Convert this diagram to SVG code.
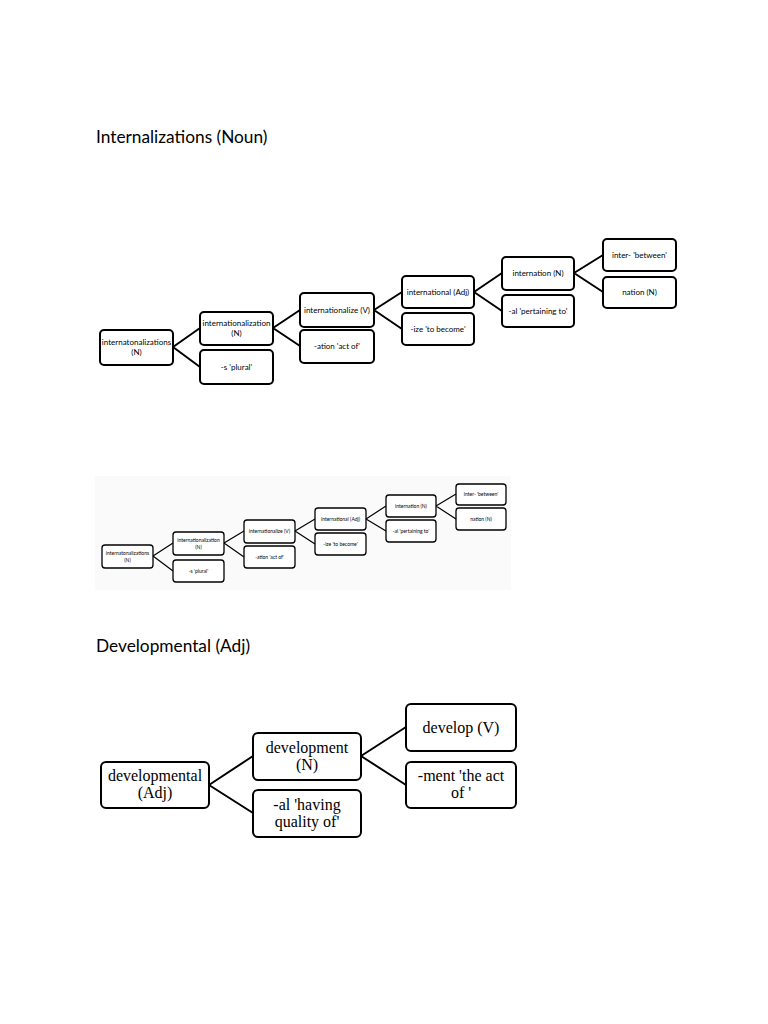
<svg xmlns="http://www.w3.org/2000/svg" width="768" height="1024" viewBox="0 0 768 1024">
<style>
.b{fill:#fff;stroke:#000;stroke-width:2}
.b2{fill:#fff;stroke:#000;stroke-width:1.3}
.t{font-family:Lato,"Liberation Sans",sans-serif;font-size:8px;text-anchor:middle;fill:#000}
.s{font-family:Lato,"Liberation Sans",sans-serif;font-size:5px;text-anchor:middle;fill:#000}
.d{font-family:"Liberation Serif",serif;font-size:16px;text-anchor:middle;fill:#000}
.h{font-family:Lato,"Open Sans",sans-serif;font-size:17.3px;fill:#000}
.c{stroke:#000;stroke-width:2;fill:none}
.c2{stroke:#000;stroke-width:1.2;fill:none}
</style>
<rect width="768" height="1024" fill="#fff"/>
<rect x="95" y="476" width="416" height="114" fill="#fafafa"/>
<text class="h" x="96" y="143">Internalizations (Noun)</text>
<text class="h" x="96" y="652">Developmental (Adj)</text>
<g id="connectors">
<path class="c" d="M173 347 L200 328 M173 347 L200 367 M273 328 L300 310 M273 328 L300 346 M374 310 L402 292 M374 310 L402 329 M474 292 L502 273 M474 292 L502 311 M574 273 L603 255 M574 273 L603 292"/>
<path class="c2" d="M153 556 L173 543 M153 556 L173 571 M224 543 L244 531 M224 543 L244 557 M295 531 L315 519 M295 531 L315 544 M366 519 L386 506 M366 519 L386 531 M436 506 L456 494 M436 506 L456 519"/>
<path class="c" d="M209 785 L253 756 M209 785 L253 813 M361 756 L406 727 M361 756 L406 785"/>
</g>
<g id="d1">
<g id="n1a"><rect class="b" x="100" y="330" width="73" height="35" rx="4"/><text class="t" x="136.5" y="345">internatonalizations</text><text class="t" x="136.5" y="355">(N)</text></g>
<g id="n1b"><rect class="b" x="200" y="312" width="73" height="33" rx="4"/><text class="t" x="236.5" y="326">internationalization</text><text class="t" x="236.5" y="336">(N)</text></g>
<g id="n1b2"><rect class="b" x="200" y="350" width="73" height="34" rx="4"/><text class="t" x="236.5" y="370">-s 'plural'</text></g>
<g id="n1c"><rect class="b" x="300" y="293" width="74" height="34" rx="4"/><text class="t" x="337" y="313">internationalize (V)</text></g>
<g id="n1c2"><rect class="b" x="300" y="330" width="74" height="33" rx="4"/><text class="t" x="337" y="349">-ation 'act of'</text></g>
<g id="n1d"><rect class="b" x="402" y="276" width="72" height="32" rx="4"/><text class="t" x="438" y="295">international (Adj)</text></g>
<g id="n1d2"><rect class="b" x="402" y="313" width="72" height="32" rx="4"/><text class="t" x="438" y="332">-ize 'to become'</text></g>
<g id="n1e"><rect class="b" x="502" y="257" width="72" height="33" rx="4"/><text class="t" x="538" y="276">internation (N)</text></g>
<g id="n1e2"><rect class="b" x="502" y="295" width="72" height="32" rx="4"/><text class="t" x="538" y="314">-al 'pertaining to'</text></g>
<g id="n1f"><rect class="b" x="603" y="239" width="73" height="32" rx="4"/><text class="t" x="639.5" y="258">inter- 'between'</text></g>
<g id="n1f2"><rect class="b" x="603" y="277" width="73" height="31" rx="4"/><text class="t" x="639.5" y="295">nation (N)</text></g>
</g>
<g id="d2">
<g id="n2a"><rect class="b2" x="102" y="545" width="51" height="23" rx="3"/><text class="s" x="127.5" y="555">internatonalizations</text><text class="s" x="127.5" y="562">(N)</text></g>
<g id="n2b"><rect class="b2" x="173" y="532" width="51" height="23" rx="3"/><text class="s" x="198.5" y="542">internationalization</text><text class="s" x="198.5" y="549">(N)</text></g>
<g id="n2b2"><rect class="b2" x="173" y="560" width="51" height="22" rx="3"/><text class="s" x="198.5" y="573">-s 'plural'</text></g>
<g id="n2c"><rect class="b2" x="244" y="520" width="51" height="23" rx="3"/><text class="s" x="269.5" y="533">internationalize (V)</text></g>
<g id="n2c2"><rect class="b2" x="244" y="546" width="51" height="22" rx="3"/><text class="s" x="269.5" y="559">-ation 'act of'</text></g>
<g id="n2d"><rect class="b2" x="315" y="508" width="51" height="22" rx="3"/><text class="s" x="340.5" y="521">international (Adj)</text></g>
<g id="n2d2"><rect class="b2" x="315" y="533" width="51" height="22" rx="3"/><text class="s" x="340.5" y="546">-ize 'to become'</text></g>
<g id="n2e"><rect class="b2" x="386" y="495" width="50" height="22" rx="3"/><text class="s" x="411" y="508">internation (N)</text></g>
<g id="n2e2"><rect class="b2" x="386" y="520" width="50" height="22" rx="3"/><text class="s" x="411" y="533">-al 'pertaining to'</text></g>
<g id="n2f"><rect class="b2" x="456" y="484" width="50" height="21" rx="3"/><text class="s" x="481" y="496">inter- 'between'</text></g>
<g id="n2f2"><rect class="b2" x="456" y="508" width="50" height="22" rx="3"/><text class="s" x="481" y="521">nation (N)</text></g>
</g>
<g id="d3">
<g id="n3a"><rect class="b" x="101" y="762" width="108" height="46" rx="5"/><text class="d" x="155" y="781">developmental</text><text class="d" x="155" y="798">(Adj)</text></g>
<g id="n3b"><rect class="b" x="253" y="733" width="108" height="47" rx="5"/><text class="d" x="307" y="753">development</text><text class="d" x="307" y="770">(N)</text></g>
<g id="n3b2"><rect class="b" x="253" y="790" width="108" height="47" rx="5"/><text class="d" x="307" y="810">-al 'having</text><text class="d" x="307" y="827">quality of'</text></g>
<g id="n3c"><rect class="b" x="406" y="704" width="110" height="47" rx="5"/><text class="d" x="461" y="733">develop (V)</text></g>
<g id="n3c2"><rect class="b" x="406" y="762" width="110" height="46" rx="5"/><text class="d" x="461" y="781">-ment 'the act</text><text class="d" x="461" y="798">of '</text></g>
</g>
</svg>
